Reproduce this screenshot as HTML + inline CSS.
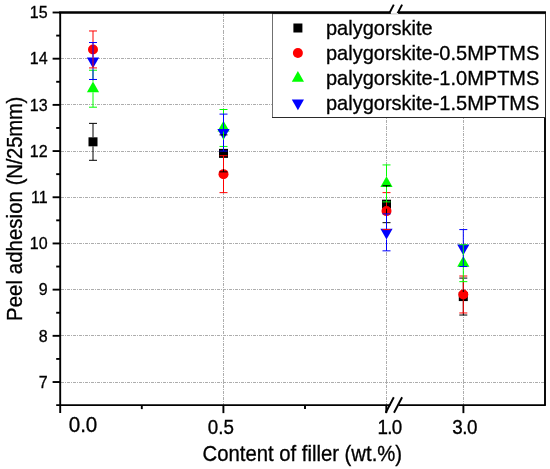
<!DOCTYPE html>
<html><head><meta charset="utf-8"><title>Peel adhesion chart</title>
<style>html,body{margin:0;padding:0;background:#fff}body{width:550px;height:469px;overflow:hidden}svg{display:block}text{font-family:"Liberation Sans",Arial,sans-serif;fill:#000;stroke:#000;stroke-width:0.3px}</style>
</head><body>
<svg width="550" height="469" viewBox="0 0 550 469">
<rect width="550" height="469" fill="#fff"/>
<g stroke="#adadad" stroke-width="1" stroke-dasharray="3 1 1 1" fill="none" shape-rendering="crispEdges">
<line x1="61" y1="382.5" x2="545.0" y2="382.5"/>
<line x1="61" y1="335.5" x2="545.0" y2="335.5"/>
<line x1="61" y1="289.5" x2="545.0" y2="289.5"/>
<line x1="61" y1="243.5" x2="545.0" y2="243.5"/>
<line x1="61" y1="197.5" x2="545.0" y2="197.5"/>
<line x1="61" y1="151.5" x2="545.0" y2="151.5"/>
<line x1="61" y1="104.5" x2="545.0" y2="104.5"/>
<line x1="61" y1="58.5" x2="545.0" y2="58.5"/>
<line x1="223.5" y1="12.5" x2="223.5" y2="405.12"/>
<line x1="386.5" y1="12.5" x2="386.5" y2="405.12"/>
<line x1="463.5" y1="12.5" x2="463.5" y2="405.12"/>
</g>
<g>
<rect x="88.50" y="137.33" width="9" height="9" fill="#000"/>
<rect x="219.00" y="148.88" width="9" height="9" fill="#000"/>
<rect x="382.00" y="199.69" width="9" height="9" fill="#000"/>
<rect x="458.80" y="292.07" width="9" height="9" fill="#000"/>
<circle cx="93.00" cy="49.45" r="5" fill="#f00"/>
<circle cx="223.50" cy="174.16" r="5" fill="#f00"/>
<circle cx="386.50" cy="211.12" r="5" fill="#f00"/>
<circle cx="463.30" cy="294.49" r="5" fill="#f00"/>
<polygon points="93.00,81.58 99.10,92.28 86.90,92.28" fill="#0f0"/>
<polygon points="223.50,120.84 229.60,131.54 217.40,131.54" fill="#0f0"/>
<polygon points="386.50,176.27 392.60,186.97 380.40,186.97" fill="#0f0"/>
<polygon points="463.30,256.04 469.40,266.74 457.20,266.74" fill="#0f0"/>
<polygon points="93.00,68.13 99.10,57.43 86.90,57.43" fill="#00f"/>
<polygon points="223.50,139.73 229.60,129.03 217.40,129.03" fill="#00f"/>
<polygon points="386.50,239.50 392.60,228.80 380.40,228.80" fill="#00f"/>
<polygon points="463.30,255.20 469.40,244.50 457.20,244.50" fill="#00f"/>
</g>
<g stroke="#000" stroke-width="1" fill="none">
<path d="M93.00 123.36V137.33M93.00 146.33V160.31M89.00 123.36H97.00M89.00 160.31H97.00"/>
<path d="M223.50 134.90V148.88M223.50 157.88V171.86M219.50 134.90H227.50M219.50 171.86H227.50"/>
<path d="M386.50 185.71V199.69M386.50 208.69V222.66M382.50 185.71H390.50M382.50 222.66H390.50"/>
<path d="M463.30 278.09V292.07M463.30 301.07V315.04M459.30 278.09H467.30M459.30 315.04H467.30"/>
</g>
<g stroke="#f00" stroke-width="1" fill="none">
<path d="M93.00 30.98V44.45M93.00 54.45V67.93M89.00 30.98H97.00M89.00 67.93H97.00"/>
<path d="M223.50 155.69V169.16M223.50 179.16V192.64M219.50 155.69H227.50M219.50 192.64H227.50"/>
<path d="M386.50 192.64V206.12M386.50 216.12V229.59M382.50 192.64H390.50M382.50 229.59H390.50"/>
<path d="M463.30 276.01V289.49M463.30 299.49V312.97M459.30 276.01H467.30M459.30 312.97H467.30"/>
</g>
<g stroke="#0f0" stroke-width="1" fill="none">
<path d="M93.00 70.24V81.61M93.00 92.31V107.19M89.00 70.24H97.00M89.00 107.19H97.00"/>
<path d="M223.50 109.50V120.88M223.50 131.57V146.45M219.50 109.50H227.50M219.50 146.45H227.50"/>
<path d="M386.50 164.93V176.30M386.50 187.00V201.88M382.50 164.93H390.50M382.50 201.88H390.50"/>
<path d="M463.30 244.70V256.07M463.30 266.77V281.65M459.30 244.70H467.30M459.30 281.65H467.30"/>
</g>
<g stroke="#00f" stroke-width="1" fill="none">
<path d="M93.00 42.52V57.40M93.00 68.10V79.48M89.00 42.52H97.00M89.00 79.48H97.00"/>
<path d="M223.50 114.12V128.99M223.50 139.69V151.07M219.50 114.12H227.50M219.50 151.07H227.50"/>
<path d="M386.50 213.89V228.76M386.50 239.46V250.84M382.50 213.89H390.50M382.50 250.84H390.50"/>
<path d="M463.30 229.59V244.47M463.30 255.17V266.54M459.30 229.59H467.30M459.30 266.54H467.30"/>
</g>
<g stroke="#000" stroke-width="1.9" fill="none">
<path d="M59.300000000000004 12.5H390.2M398.8 12.5H545.9"/>
<path d="M56.2 405.12H390.2M398.8 405.12H545.9"/>
<path d="M60.2 12.5V413.12M545.0 12.5V405.12"/>
<line x1="52.6" y1="12.50" x2="60.2" y2="12.50"/>
<line x1="56.2" y1="35.59" x2="60.2" y2="35.59"/>
<line x1="52.6" y1="58.69" x2="60.2" y2="58.69"/>
<line x1="56.2" y1="81.78" x2="60.2" y2="81.78"/>
<line x1="52.6" y1="104.88" x2="60.2" y2="104.88"/>
<line x1="56.2" y1="127.97" x2="60.2" y2="127.97"/>
<line x1="52.6" y1="151.07" x2="60.2" y2="151.07"/>
<line x1="56.2" y1="174.16" x2="60.2" y2="174.16"/>
<line x1="52.6" y1="197.26" x2="60.2" y2="197.26"/>
<line x1="56.2" y1="220.35" x2="60.2" y2="220.35"/>
<line x1="52.6" y1="243.45" x2="60.2" y2="243.45"/>
<line x1="56.2" y1="266.54" x2="60.2" y2="266.54"/>
<line x1="52.6" y1="289.64" x2="60.2" y2="289.64"/>
<line x1="56.2" y1="312.74" x2="60.2" y2="312.74"/>
<line x1="52.6" y1="335.83" x2="60.2" y2="335.83"/>
<line x1="56.2" y1="358.92" x2="60.2" y2="358.92"/>
<line x1="52.6" y1="382.02" x2="60.2" y2="382.02"/>
<line x1="223.4" y1="405.12" x2="223.4" y2="413.12"/>
<line x1="386.3" y1="405.12" x2="386.3" y2="413.12"/>
<line x1="463.4" y1="405.12" x2="463.4" y2="413.12"/>
<line x1="141.8" y1="405.12" x2="141.8" y2="409.12"/>
<line x1="305.0" y1="405.12" x2="305.0" y2="409.12"/>
</g>
<g stroke="#000" stroke-width="1.9" fill="none">
<line x1="385.7" y1="20.20" x2="393.8" y2="4.60"/>
<line x1="394.0" y1="20.20" x2="402.1" y2="4.60"/>
<line x1="385.7" y1="412.81" x2="393.8" y2="397.22"/>
<line x1="394.0" y1="412.81" x2="402.1" y2="397.22"/>
</g>
<rect x="272.5" y="13.6" width="273" height="103.9" fill="#fff" stroke="#2a2a2a" stroke-width="1"/>
<line x1="272.5" y1="14" x2="272.5" y2="117" stroke="#707070" stroke-width="1"/>
<path d="M59.300000000000004 12.5H390.2M398.8 12.5H545.9" stroke="#000" stroke-width="1.9"/>
<line x1="391" y1="13.7" x2="398" y2="13.7" stroke="#ddd" stroke-width="1.4"/>
<rect x="293.40" y="23.50" width="9" height="9" fill="#000"/>
<text transform="translate(326 35) scale(1 1.03)" font-size="20">palygorskite</text>
<circle cx="297.90" cy="53.00" r="5" fill="#f00"/>
<text transform="translate(326 59.8) scale(1 1.03)" font-size="20">palygorskite-0.5MPTMS</text>
<polygon points="297.90,70.97 304.00,81.67 291.80,81.67" fill="#0f0"/>
<text transform="translate(326 85) scale(1 1.03)" font-size="20">palygorskite-1.0MPTMS</text>
<polygon points="297.90,110.23 304.00,99.53 291.80,99.53" fill="#00f"/>
<text transform="translate(326 109.6) scale(1 1.03)" font-size="20">palygorskite-1.5MPTMS</text>
<text transform="translate(47.6 387.82) scale(1 1.0)" font-size="16" text-anchor="end">7</text>
<text transform="translate(47.6 341.63) scale(1 1.0)" font-size="16" text-anchor="end">8</text>
<text transform="translate(47.6 295.44) scale(1 1.0)" font-size="16" text-anchor="end">9</text>
<text transform="translate(47.6 249.25) scale(1 1.0)" font-size="16" text-anchor="end">10</text>
<text transform="translate(47.6 203.06) scale(1 1.0)" font-size="16" text-anchor="end">11</text>
<text transform="translate(47.6 156.87) scale(1 1.0)" font-size="16" text-anchor="end">12</text>
<text transform="translate(47.6 110.68) scale(1 1.0)" font-size="16" text-anchor="end">13</text>
<text transform="translate(47.6 64.49) scale(1 1.0)" font-size="16" text-anchor="end">14</text>
<text transform="translate(47.6 18.3) scale(1 1.0)" font-size="16" text-anchor="end">15</text>
<text transform="translate(83 431.6) scale(1 1.05)" font-size="20.6" text-anchor="middle">0.0</text>
<text transform="translate(220.9 433.8) scale(1 1.06)" font-size="18.8" text-anchor="middle">0.5</text>
<text transform="translate(389.6 433.8) scale(1 1.06)" font-size="18.8" text-anchor="middle" letter-spacing="-0.7">1.0</text>
<text transform="translate(464.7 433.8) scale(1 1.06)" font-size="18.8" text-anchor="middle" letter-spacing="-0.4">3.0</text>
<text transform="translate(302.3 461) scale(1 1.05)" font-size="20.3" text-anchor="middle">Content of filler (wt.%)</text>
<text transform="translate(21.8 208.9) rotate(-90) scale(1 1.07)" font-size="20.3" text-anchor="middle"><tspan letter-spacing="0.1">Peel adhesion </tspan><tspan letter-spacing="-0.22">(N/25mm)</tspan></text>
</svg></body></html>
